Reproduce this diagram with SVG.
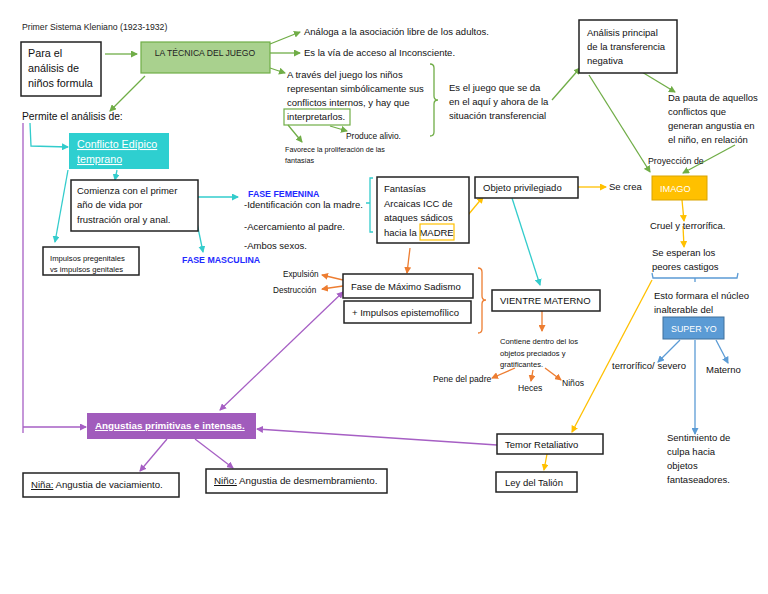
<svg xmlns="http://www.w3.org/2000/svg" width="768" height="594" viewBox="0 0 768 594">
<defs>
<style>
text{font-family:"Liberation Sans",Arial,sans-serif;fill:#111;}
.bx{fill:#fff;stroke:#222;stroke-width:1.5;}
.g{stroke:#70ad47;stroke-width:1.3;fill:none;}
.c{stroke:#33cccc;stroke-width:1.3;fill:none;}
.o{stroke:#ed7d31;stroke-width:1.3;fill:none;}
.y{stroke:#ffc000;stroke-width:1.3;fill:none;}
.p{stroke:#a65fc4;stroke-width:1.3;fill:none;}
.b{stroke:#5b9bd5;stroke-width:1.3;fill:none;}
.t9{font-size:9.5px;}
.blue{fill:#1f2bff;font-weight:bold;font-size:8.8px;}
</style>
<marker id="mG" markerWidth="7" markerHeight="7" refX="6" refY="3.5" orient="auto" markerUnits="userSpaceOnUse"><path d="M0,0 L7,3.5 L0,7 z" fill="#70ad47"/></marker>
<marker id="mC" markerWidth="7" markerHeight="7" refX="6" refY="3.5" orient="auto" markerUnits="userSpaceOnUse"><path d="M0,0 L7,3.5 L0,7 z" fill="#33cccc"/></marker>
<marker id="mO" markerWidth="7" markerHeight="7" refX="6" refY="3.5" orient="auto" markerUnits="userSpaceOnUse"><path d="M0,0 L7,3.5 L0,7 z" fill="#ed7d31"/></marker>
<marker id="mY" markerWidth="7" markerHeight="7" refX="6" refY="3.5" orient="auto" markerUnits="userSpaceOnUse"><path d="M0,0 L7,3.5 L0,7 z" fill="#ffc000"/></marker>
<marker id="mP" markerWidth="7" markerHeight="7" refX="6" refY="3.5" orient="auto-start-reverse" markerUnits="userSpaceOnUse"><path d="M0,0 L7,3.5 L0,7 z" fill="#a65fc4"/></marker>
<marker id="mB" markerWidth="7" markerHeight="7" refX="6" refY="3.5" orient="auto" markerUnits="userSpaceOnUse"><path d="M0,0 L7,3.5 L0,7 z" fill="#5b9bd5"/></marker>
</defs>
<rect width="768" height="594" fill="#fff"/>

<g id="connectors">
<line class="g" x1="105" y1="54" x2="137" y2="54" marker-end="url(#mG)"/>
<line class="g" x1="270" y1="44" x2="300" y2="32" marker-end="url(#mG)"/>
<line class="g" x1="270" y1="53" x2="300" y2="53" marker-end="url(#mG)"/>
<line class="g" x1="270" y1="68" x2="285" y2="73" marker-end="url(#mG)"/>
<line class="g" x1="145" y1="76" x2="110" y2="111" marker-end="url(#mG)"/>
<line class="g" x1="330" y1="126" x2="347" y2="131" marker-end="url(#mG)"/>
<line class="g" x1="288" y1="125" x2="302" y2="142" marker-end="url(#mG)"/>
<path class="g" d="M430,64 Q434,64 434,68 L434,96 Q434,100 438,100 Q434,100 434,104 L434,132 Q434,136 430,136"/>
<line class="g" x1="552" y1="100" x2="580" y2="68" marker-end="url(#mG)"/>
<line class="g" x1="627" y1="63" x2="675" y2="92" marker-end="url(#mG)"/>
<line class="g" x1="735" y1="145" x2="683" y2="173" marker-end="url(#mG)"/>
<line class="g" x1="589" y1="75" x2="650" y2="172" marker-end="url(#mG)"/>
<polyline class="c" points="30,123 31,146 68,147" marker-end="url(#mC)"/>
<line class="c" x1="117" y1="170" x2="115" y2="180" marker-end="url(#mC)"/>
<line class="c" x1="68" y1="170" x2="55" y2="242" marker-end="url(#mC)"/>
<line class="c" x1="198" y1="197" x2="238" y2="197" marker-end="url(#mC)"/>
<line class="c" x1="197" y1="223" x2="203" y2="252" marker-end="url(#mC)"/>
<path class="c" d="M373,178 L370,178 L370,203 L366,203 M370,203 L370,232 L373,232"/>
<line class="c" x1="512" y1="198" x2="540" y2="285" marker-end="url(#mC)"/>
<line class="y" x1="453" y1="233" x2="483" y2="197" marker-end="url(#mY)"/>
<line class="y" x1="578" y1="187" x2="606" y2="187" marker-end="url(#mY)"/>
<line class="y" x1="682" y1="200" x2="684" y2="221" marker-end="url(#mY)"/>
<line class="y" x1="683" y1="226" x2="684" y2="247" marker-end="url(#mY)"/>
<line class="y" x1="652" y1="280" x2="572" y2="432" marker-end="url(#mY)"/>
<line class="y" x1="547" y1="454" x2="544" y2="470" marker-end="url(#mY)"/>
<line class="o" x1="410" y1="248" x2="407" y2="273" marker-end="url(#mO)"/>
<line class="o" x1="343" y1="280" x2="322" y2="275" marker-end="url(#mO)"/>
<line class="o" x1="343" y1="286" x2="322" y2="289" marker-end="url(#mO)"/>
<path class="o" d="M478,268 Q482,268 482,272 L482,296 Q482,300 486,300 Q482,300 482,304 L482,329 Q482,333 478,333"/>
<line class="o" x1="542" y1="311" x2="542" y2="331" marker-end="url(#mO)"/>
<line class="o" x1="515" y1="368" x2="492" y2="378" marker-end="url(#mO)"/>
<line class="o" x1="533" y1="370" x2="531" y2="381" marker-end="url(#mO)"/>
<line class="o" x1="545" y1="368" x2="561" y2="380" marker-end="url(#mO)"/>
<polyline class="p" points="23,123 23,433"/>
<line class="p" x1="23" y1="427" x2="86" y2="427" marker-end="url(#mP)"/>
<line class="p" x1="343" y1="292" x2="220" y2="410" marker-start="url(#mP)" marker-end="url(#mP)"/>
<line class="p" x1="497" y1="445" x2="257" y2="429" marker-end="url(#mP)"/>
<line class="p" x1="167" y1="439" x2="140" y2="471" marker-end="url(#mP)"/>
<line class="p" x1="195" y1="439" x2="233" y2="468" marker-end="url(#mP)"/>
<path class="b" d="M652,273 L653,278 L737,278 L738,273 M695,278 L695,282"/>
<line class="b" x1="680" y1="340" x2="658" y2="362" marker-end="url(#mB)"/>
<line class="b" x1="716" y1="340" x2="728" y2="363" marker-end="url(#mB)"/>
<line class="b" x1="695" y1="340" x2="695" y2="434" marker-end="url(#mB)"/>
</g>

<text id="title" x="22" y="30" style="font-size:8.7px;fill:#222">Primer Sistema Kleniano (1923-1932)</text>

<g id="para">
<rect class="bx" x="21" y="42" width="80" height="54"/>
<text x="28" y="57" style="font-size:10.8px">Para el</text>
<text x="28" y="72" style="font-size:10.8px">análisis de</text>
<text x="28" y="87" style="font-size:10.8px">niños formula</text>
</g>

<g id="tecnica">
<rect x="141" y="42" width="129" height="31" fill="#a9d18e" stroke="#70ad47" stroke-width="1.2"/>
<text x="205" y="56" text-anchor="middle" style="font-size:8.6px;fill:#222">LA TÉCNICA DEL JUEGO</text>
</g>

<g id="analoga"><text class="t9" x="304" y="35">Análoga a la asociación libre de los adultos.</text></g>
<g id="via"><text class="t9" x="304" y="56">Es la vía de acceso al Inconsciente.</text></g>
<g id="atraves">
<text class="t9" x="287" y="78">A través del juego los niños</text>
<text class="t9" x="287" y="92">representan simbólicamente sus</text>
<text class="t9" x="287" y="106">conflictos internos, y hay que</text>
<rect x="284" y="109" width="66" height="16" fill="none" stroke="#70ad47" stroke-width="1.2"/>
<text class="t9" x="287" y="120">interpretarlos.</text>
</g>
<g id="alivio"><text x="346" y="139" style="font-size:8.4px">Produce alivio.</text></g>
<g id="favorece">
<text x="285" y="152" style="font-size:7.2px">Favorece la proliferación de las</text>
<text x="285" y="163" style="font-size:7.2px">fantasías</text>
</g>
<g id="esjuego">
<text class="t9" x="449" y="91">Es el juego que se da</text>
<text class="t9" x="449" y="105">en el aquí y ahora de la</text>
<text class="t9" x="449" y="119">situación transferencial</text>
</g>
<g id="analisis">
<rect class="bx" x="579" y="20" width="98" height="53"/>
<text class="t9" x="587" y="36">Análisis principal</text>
<text class="t9" x="587" y="50">de la transferencia</text>
<text class="t9" x="587" y="64">negativa</text>
</g>
<g id="dapauta">
<text class="t9" x="668" y="101">Da pauta de aquellos</text>
<text class="t9" x="668" y="115">conflictos que</text>
<text class="t9" x="668" y="129">generan angustia en</text>
<text class="t9" x="668" y="143">el niño, en relación</text>
</g>
<g id="proyeccion"><text x="648" y="164" style="font-size:8.8px">Proyección de</text></g>
<g id="imago">
<rect x="652" y="176" width="55" height="24" fill="#ffc000" stroke="#d9a400" stroke-width="1"/>
<text x="660" y="192" style="font-size:9.2px;fill:#fff">IMAGO</text>
</g>
<g id="secrea"><text class="t9" x="609" y="190">Se crea</text></g>
<g id="cruel"><text class="t9" x="650" y="229">Cruel y terrorífica.</text></g>
<g id="esperan">
<text class="t9" x="652" y="256">Se esperan los</text>
<text class="t9" x="652" y="270">peores castigos</text>
</g>
<g id="nucleo">
<text class="t9" x="654" y="299">Esto formara el núcleo</text>
<text class="t9" x="654" y="313">inalterable del</text>
</g>
<g id="superyo">
<rect x="663" y="317" width="61" height="22" fill="#5b9bd5" stroke="#41719c" stroke-width="1"/>
<text x="671" y="332" style="font-size:8.9px;fill:#fff">SUPER YO</text>
</g>
<g id="terrorifico"><text class="t9" x="612" y="369">terrorífico/ severo</text></g>
<g id="materno"><text class="t9" x="706" y="373">Materno</text></g>
<g id="sentimiento">
<text class="t9" x="667" y="441">Sentimiento de</text>
<text class="t9" x="667" y="455">culpa hacia</text>
<text class="t9" x="667" y="469">objetos</text>
<text class="t9" x="667" y="483">fantaseadores.</text>
</g>

<g id="permite"><text x="22" y="120" style="font-size:10.3px">Permite el análisis de:</text></g>
<g id="conflicto">
<rect x="69" y="133" width="100" height="36" fill="#2ecfd0"/>
<text x="77" y="148" style="font-size:10.7px;fill:#fff;text-decoration:underline">Conflicto Edípico</text>
<text x="77" y="163" style="font-size:10.7px;fill:#fff;text-decoration:underline">temprano</text>
</g>
<g id="comienza">
<rect class="bx" x="71" y="180" width="127" height="51"/>
<text class="t9" x="77" y="194">Comienza con el primer</text>
<text class="t9" x="77" y="208">año de vida por</text>
<text class="t9" x="77" y="223">frustración oral y anal.</text>
</g>
<g id="impulsos">
<rect class="bx" x="43" y="247" width="96" height="28"/>
<text x="50" y="261" style="font-size:7.7px">Impulsos pregenitales</text>
<text x="50" y="272" style="font-size:7.7px">vs impulsos genitales</text>
</g>
<g id="femenina">
<text class="blue" x="248" y="197">FASE FEMENINA</text>
<text class="t9" x="244" y="208">-Identificación con la madre.</text>
<text class="t9" x="244" y="230">-Acercamiento al padre.</text>
<text class="t9" x="244" y="249">-Ambos sexos.</text>
</g>
<g id="masculina"><text class="blue" x="182" y="263">FASE MASCULINA</text></g>

<g id="fantasias">
<rect class="bx" x="377" y="177" width="92" height="66"/>
<text class="t9" x="384" y="192">Fantasías</text>
<text class="t9" x="384" y="207">Arcaicas ICC de</text>
<text class="t9" x="384" y="221">ataques sádicos</text>
<text class="t9" x="384" y="236">hacia la MADRE</text>
<rect x="420" y="224" width="34" height="16" fill="none" stroke="#ffc000" stroke-width="1.2"/>
</g>
<g id="objeto">
<rect class="bx" x="475" y="177" width="103" height="21"/>
<text class="t9" x="483" y="191">Objeto privilegiado</text>
</g>
<g id="sadismo">
<rect class="bx" x="343" y="274" width="130" height="24"/>
<text class="t9" x="351" y="290">Fase de Máximo Sadismo</text>
</g>
<g id="epistemo">
<rect class="bx" x="344" y="301" width="127" height="22"/>
<text class="t9" x="352" y="316">+ Impulsos epistemofílico</text>
</g>
<g id="expulsion"><text x="283" y="277" style="font-size:8.2px">Expulsión</text></g>
<g id="destruccion"><text x="273" y="293" style="font-size:8.2px">Destrucción</text></g>
<g id="vientre">
<rect class="bx" x="492" y="290" width="108" height="21"/>
<text class="t9" x="500" y="304">VIENTRE MATERNO</text>
</g>
<g id="contiene">
<text x="500" y="344" style="font-size:7.6px">Contiene dentro del los</text>
<text x="500" y="356" style="font-size:7.6px">objetos preciados y</text>
<text x="500" y="367" style="font-size:7.6px">gratificantes.</text>
</g>
<g id="pene"><text x="433" y="382" style="font-size:8.6px">Pene del padre</text></g>
<g id="heces"><text x="518" y="391" style="font-size:8.6px">Heces</text></g>
<g id="ninos"><text x="562" y="386" style="font-size:8.6px">Niños</text></g>

<g id="temor">
<rect class="bx" x="497" y="434" width="106" height="20"/>
<text class="t9" x="505" y="448">Temor Retaliativo</text>
</g>
<g id="talion">
<rect class="bx" x="496" y="472" width="81" height="20"/>
<text class="t9" x="505" y="486">Ley del Talión</text>
</g>
<g id="angustias">
<rect x="87" y="413" width="169" height="26" fill="#a15cbc"/>
<text x="95" y="429" style="font-size:9.8px;font-weight:bold;fill:#fff;text-decoration:underline">Angustias primitivas e intensas.</text>
</g>
<g id="nina">
<rect class="bx" x="23" y="473" width="156" height="24"/>
<text x="31" y="488" style="font-size:9.6px"><tspan text-decoration="underline">Niña:</tspan> Angustia de vaciamiento.</text>
</g>
<g id="nino">
<rect class="bx" x="206" y="469" width="181" height="24"/>
<text x="214" y="484" style="font-size:9.8px"><tspan text-decoration="underline">Niño:</tspan> Angustia de desmembramiento.</text>
</g>
</svg>
